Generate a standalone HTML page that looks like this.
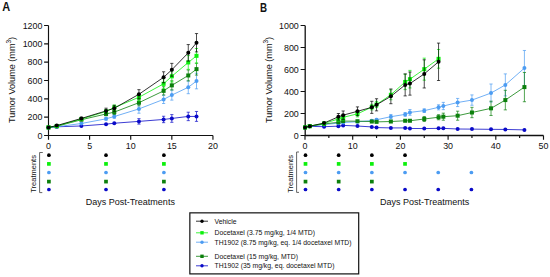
<!DOCTYPE html>
<html><head><meta charset="utf-8"><style>
html,body{margin:0;padding:0;background:#fff;}
body{width:550px;height:277px;overflow:hidden;}
svg{display:block;}
text{font-family:"Liberation Sans",sans-serif;fill:#111;}
</style></head><body>
<svg width="550" height="277" viewBox="0 0 550 277">
<rect width="550" height="277" fill="#fff"/>
<text transform="translate(2.3,11.2) scale(0.9,1)" font-size="12.2" font-weight="bold" font-family="Liberation Sans, sans-serif">A</text>
<text transform="translate(260.0,11.6) scale(0.8,1)" font-size="12.2" font-weight="bold" font-family="Liberation Sans, sans-serif">B</text>
<path d="M48.5 25.500000000000014V135.5H212.94" stroke="#111" stroke-width="1.15" fill="none"/>
<path d="M44.1 135.50H48.5 M44.1 117.17H48.5 M44.1 98.83H48.5 M44.1 80.50H48.5 M44.1 62.17H48.5 M44.1 43.83H48.5 M44.1 25.50H48.5 M48.50 135.5V139.8 M89.61 135.5V139.8 M130.72 135.5V139.8 M171.83 135.5V139.8 M212.94 135.5V139.8" stroke="#111" stroke-width="1.15" fill="none"/>
<text x="42.4" y="138.50" font-size="8.9" text-anchor="end" font-family="Liberation Sans, sans-serif">0</text>
<text x="42.4" y="120.17" font-size="8.9" text-anchor="end" font-family="Liberation Sans, sans-serif">200</text>
<text x="42.4" y="101.83" font-size="8.9" text-anchor="end" font-family="Liberation Sans, sans-serif">400</text>
<text x="42.4" y="83.50" font-size="8.9" text-anchor="end" font-family="Liberation Sans, sans-serif">600</text>
<text x="42.4" y="65.17" font-size="8.9" text-anchor="end" font-family="Liberation Sans, sans-serif">800</text>
<text x="42.4" y="46.83" font-size="8.9" text-anchor="end" font-family="Liberation Sans, sans-serif">1000</text>
<text x="42.4" y="28.50" font-size="8.9" text-anchor="end" font-family="Liberation Sans, sans-serif">1200</text>
<text x="48.50" y="149.3" font-size="8.9" text-anchor="middle" font-family="Liberation Sans, sans-serif">0</text>
<text x="89.61" y="149.3" font-size="8.9" text-anchor="middle" font-family="Liberation Sans, sans-serif">5</text>
<text x="130.72" y="149.3" font-size="8.9" text-anchor="middle" font-family="Liberation Sans, sans-serif">10</text>
<text x="171.83" y="149.3" font-size="8.9" text-anchor="middle" font-family="Liberation Sans, sans-serif">15</text>
<text x="212.94" y="149.3" font-size="8.9" text-anchor="middle" font-family="Liberation Sans, sans-serif">20</text>
<text transform="translate(14.9,123.0) rotate(-90)" font-size="9.1" font-family="Liberation Sans, sans-serif">Tumor Volume (mm<tspan font-size="6.5" dy="-4">3</tspan><tspan dy="4">)</tspan></text>
<text x="130.3" y="204.5" font-size="9" text-anchor="middle" font-family="Liberation Sans, sans-serif">Days Post-Treatments</text>
<path d="M305.2 25.5V135.5H543.5" stroke="#111" stroke-width="1.3" fill="none"/>
<path d="M300.6 135.50H305.0 M300.6 113.50H305.0 M300.6 91.50H305.0 M300.6 69.50H305.0 M300.6 47.50H305.0 M300.6 25.50H305.0 M305.00 135.5V139.8 M352.70 135.5V139.8 M400.40 135.5V139.8 M448.10 135.5V139.8 M495.80 135.5V139.8 M543.50 135.5V139.8 M328.85 135.5V137.9 M376.55 135.5V137.9 M424.25 135.5V137.9 M471.95 135.5V137.9 M519.65 135.5V137.9" stroke="#111" stroke-width="1.15" fill="none"/>
<text x="298.8" y="138.50" font-size="8.9" text-anchor="end" font-family="Liberation Sans, sans-serif">0</text>
<text x="298.8" y="116.50" font-size="8.9" text-anchor="end" font-family="Liberation Sans, sans-serif">200</text>
<text x="298.8" y="94.50" font-size="8.9" text-anchor="end" font-family="Liberation Sans, sans-serif">400</text>
<text x="298.8" y="72.50" font-size="8.9" text-anchor="end" font-family="Liberation Sans, sans-serif">600</text>
<text x="298.8" y="50.50" font-size="8.9" text-anchor="end" font-family="Liberation Sans, sans-serif">800</text>
<text x="298.8" y="28.50" font-size="8.9" text-anchor="end" font-family="Liberation Sans, sans-serif">1000</text>
<text x="305.00" y="149.3" font-size="8.9" text-anchor="middle" font-family="Liberation Sans, sans-serif">0</text>
<text x="352.70" y="149.3" font-size="8.9" text-anchor="middle" font-family="Liberation Sans, sans-serif">10</text>
<text x="400.40" y="149.3" font-size="8.9" text-anchor="middle" font-family="Liberation Sans, sans-serif">20</text>
<text x="448.10" y="149.3" font-size="8.9" text-anchor="middle" font-family="Liberation Sans, sans-serif">30</text>
<text x="495.80" y="149.3" font-size="8.9" text-anchor="middle" font-family="Liberation Sans, sans-serif">40</text>
<text x="543.50" y="149.3" font-size="8.9" text-anchor="middle" font-family="Liberation Sans, sans-serif">50</text>
<text transform="translate(271.5,123.0) rotate(-90)" font-size="9.1" font-family="Liberation Sans, sans-serif">Tumor Volume (mm<tspan font-size="6.5" dy="-4">3</tspan><tspan dy="4">)</tspan></text>
<text x="424.6" y="205.4" font-size="9" text-anchor="middle" font-family="Liberation Sans, sans-serif">Days Post-Treatments</text>
<polyline points="48.50,127.43 56.72,126.79 81.39,125.97 106.05,124.13 114.28,123.22 138.94,121.38 163.61,119.46 171.83,118.45 188.27,116.43 196.50,116.43" fill="none" stroke="#0a0ac8" stroke-width="0.8"/>
<path d="M138.94 118.63V124.13M137.34 118.63h3.2M137.34 124.13h3.2" stroke="#0a0ac8" stroke-width="0.7" fill="none"/>
<path d="M163.61 116.25V122.67M162.01 116.25h3.2M162.01 122.67h3.2" stroke="#0a0ac8" stroke-width="0.7" fill="none"/>
<path d="M171.83 114.60V122.30M170.23 114.60h3.2M170.23 122.30h3.2" stroke="#0a0ac8" stroke-width="0.7" fill="none"/>
<path d="M188.27 112.22V120.65M186.67 112.22h3.2M186.67 120.65h3.2" stroke="#0a0ac8" stroke-width="0.7" fill="none"/>
<path d="M196.50 111.48V121.38M194.90 111.48h3.2M194.90 121.38h3.2" stroke="#0a0ac8" stroke-width="0.7" fill="none"/>
<circle cx="48.50" cy="127.43" r="2.0" fill="#0a0ac8"/>
<circle cx="56.72" cy="126.79" r="2.0" fill="#0a0ac8"/>
<circle cx="81.39" cy="125.97" r="2.0" fill="#0a0ac8"/>
<circle cx="106.05" cy="124.13" r="2.0" fill="#0a0ac8"/>
<circle cx="114.28" cy="123.22" r="2.0" fill="#0a0ac8"/>
<circle cx="138.94" cy="121.38" r="2.0" fill="#0a0ac8"/>
<circle cx="163.61" cy="119.46" r="2.0" fill="#0a0ac8"/>
<circle cx="171.83" cy="118.45" r="2.0" fill="#0a0ac8"/>
<circle cx="188.27" cy="116.43" r="2.0" fill="#0a0ac8"/>
<circle cx="196.50" cy="116.43" r="2.0" fill="#0a0ac8"/>
<polyline points="48.50,127.43 56.72,126.79 81.39,123.49 106.05,118.82 114.28,116.53 138.94,108.92 163.61,99.38 171.83,95.08 188.27,87.28 196.50,81.05" fill="none" stroke="#4c9cf2" stroke-width="0.8"/>
<path d="M106.05 117.44V120.19M104.45 117.44h3.2M104.45 120.19h3.2" stroke="#4c9cf2" stroke-width="0.7" fill="none"/>
<path d="M114.28 114.69V118.36M112.68 114.69h3.2M112.68 118.36h3.2" stroke="#4c9cf2" stroke-width="0.7" fill="none"/>
<path d="M138.94 104.61V113.22M137.34 104.61h3.2M137.34 113.22h3.2" stroke="#4c9cf2" stroke-width="0.7" fill="none"/>
<path d="M163.61 95.26V103.51M162.01 95.26h3.2M162.01 103.51h3.2" stroke="#4c9cf2" stroke-width="0.7" fill="none"/>
<path d="M171.83 90.03V100.12M170.23 90.03h3.2M170.23 100.12h3.2" stroke="#4c9cf2" stroke-width="0.7" fill="none"/>
<path d="M188.27 80.87V93.70M186.67 80.87h3.2M186.67 93.70h3.2" stroke="#4c9cf2" stroke-width="0.7" fill="none"/>
<path d="M196.50 73.26V88.84M194.90 73.26h3.2M194.90 88.84h3.2" stroke="#4c9cf2" stroke-width="0.7" fill="none"/>
<circle cx="48.50" cy="127.43" r="2.0" fill="#4c9cf2"/>
<circle cx="56.72" cy="126.79" r="2.0" fill="#4c9cf2"/>
<circle cx="81.39" cy="123.49" r="2.0" fill="#4c9cf2"/>
<circle cx="106.05" cy="118.82" r="2.0" fill="#4c9cf2"/>
<circle cx="114.28" cy="116.53" r="2.0" fill="#4c9cf2"/>
<circle cx="138.94" cy="108.92" r="2.0" fill="#4c9cf2"/>
<circle cx="163.61" cy="99.38" r="2.0" fill="#4c9cf2"/>
<circle cx="171.83" cy="95.08" r="2.0" fill="#4c9cf2"/>
<circle cx="188.27" cy="87.28" r="2.0" fill="#4c9cf2"/>
<circle cx="196.50" cy="81.05" r="2.0" fill="#4c9cf2"/>
<polyline points="48.50,127.43 56.72,126.33 81.39,119.73 106.05,113.96 114.28,112.12 138.94,102.68 163.61,90.86 171.83,85.36 188.27,75.46 196.50,69.13" fill="none" stroke="#0c800c" stroke-width="0.8"/>
<path d="M106.05 112.12V115.79M104.45 112.12h3.2M104.45 115.79h3.2" stroke="#0c800c" stroke-width="0.7" fill="none"/>
<path d="M114.28 109.83V114.42M112.68 109.83h3.2M112.68 114.42h3.2" stroke="#0c800c" stroke-width="0.7" fill="none"/>
<path d="M138.94 99.47V105.89M137.34 99.47h3.2M137.34 105.89h3.2" stroke="#0c800c" stroke-width="0.7" fill="none"/>
<path d="M163.61 86.73V94.98M162.01 86.73h3.2M162.01 94.98h3.2" stroke="#0c800c" stroke-width="0.7" fill="none"/>
<path d="M171.83 80.78V89.94M170.23 80.78h3.2M170.23 89.94h3.2" stroke="#0c800c" stroke-width="0.7" fill="none"/>
<path d="M188.27 69.96V80.96M186.67 69.96h3.2M186.67 80.96h3.2" stroke="#0c800c" stroke-width="0.7" fill="none"/>
<path d="M196.50 63.18V75.09M194.90 63.18h3.2M194.90 75.09h3.2" stroke="#0c800c" stroke-width="0.7" fill="none"/>
<rect x="46.50" y="125.43" width="4.0" height="4.0" fill="#0c800c"/>
<rect x="54.72" y="124.33" width="4.0" height="4.0" fill="#0c800c"/>
<rect x="79.39" y="117.73" width="4.0" height="4.0" fill="#0c800c"/>
<rect x="104.05" y="111.96" width="4.0" height="4.0" fill="#0c800c"/>
<rect x="112.28" y="110.12" width="4.0" height="4.0" fill="#0c800c"/>
<rect x="136.94" y="100.68" width="4.0" height="4.0" fill="#0c800c"/>
<rect x="161.61" y="88.86" width="4.0" height="4.0" fill="#0c800c"/>
<rect x="169.83" y="83.36" width="4.0" height="4.0" fill="#0c800c"/>
<rect x="186.27" y="73.46" width="4.0" height="4.0" fill="#0c800c"/>
<rect x="194.50" y="67.13" width="4.0" height="4.0" fill="#0c800c"/>
<polyline points="48.50,127.43 56.72,125.97 81.39,119.00 106.05,111.48 114.28,107.54 138.94,97.28 163.61,83.80 171.83,76.28 188.27,62.44 196.50,55.84" fill="none" stroke="#0cf00c" stroke-width="0.8"/>
<path d="M106.05 109.65V113.32M104.45 109.65h3.2M104.45 113.32h3.2" stroke="#0cf00c" stroke-width="0.7" fill="none"/>
<path d="M114.28 104.97V110.11M112.68 104.97h3.2M112.68 110.11h3.2" stroke="#0cf00c" stroke-width="0.7" fill="none"/>
<path d="M138.94 93.61V100.94M137.34 93.61h3.2M137.34 100.94h3.2" stroke="#0cf00c" stroke-width="0.7" fill="none"/>
<path d="M163.61 78.76V88.84M162.01 78.76h3.2M162.01 88.84h3.2" stroke="#0cf00c" stroke-width="0.7" fill="none"/>
<path d="M171.83 70.60V81.97M170.23 70.60h3.2M170.23 81.97h3.2" stroke="#0cf00c" stroke-width="0.7" fill="none"/>
<path d="M188.27 55.57V69.32M186.67 55.57h3.2M186.67 69.32h3.2" stroke="#0cf00c" stroke-width="0.7" fill="none"/>
<path d="M196.50 48.51V63.18M194.90 48.51h3.2M194.90 63.18h3.2" stroke="#0cf00c" stroke-width="0.7" fill="none"/>
<rect x="46.50" y="125.43" width="4.0" height="4.0" fill="#0cf00c"/>
<rect x="54.72" y="123.97" width="4.0" height="4.0" fill="#0cf00c"/>
<rect x="79.39" y="117.00" width="4.0" height="4.0" fill="#0cf00c"/>
<rect x="104.05" y="109.48" width="4.0" height="4.0" fill="#0cf00c"/>
<rect x="112.28" y="105.54" width="4.0" height="4.0" fill="#0cf00c"/>
<rect x="136.94" y="95.28" width="4.0" height="4.0" fill="#0cf00c"/>
<rect x="161.61" y="81.80" width="4.0" height="4.0" fill="#0cf00c"/>
<rect x="169.83" y="74.28" width="4.0" height="4.0" fill="#0cf00c"/>
<rect x="186.27" y="60.44" width="4.0" height="4.0" fill="#0cf00c"/>
<rect x="194.50" y="53.84" width="4.0" height="4.0" fill="#0cf00c"/>
<polyline points="48.50,127.43 56.72,125.60 81.39,118.45 106.05,110.93 114.28,108.28 138.94,94.25 163.61,77.29 171.83,69.78 188.27,52.82 196.50,42.73" fill="none" stroke="#000000" stroke-width="0.8"/>
<path d="M81.39 117.17V119.73M79.79 117.17h3.2M79.79 119.73h3.2" stroke="#000000" stroke-width="0.7" fill="none"/>
<path d="M106.05 108.18V113.68M104.45 108.18h3.2M104.45 113.68h3.2" stroke="#000000" stroke-width="0.7" fill="none"/>
<path d="M114.28 105.34V111.21M112.68 105.34h3.2M112.68 111.21h3.2" stroke="#000000" stroke-width="0.7" fill="none"/>
<path d="M138.94 89.67V98.83M137.34 89.67h3.2M137.34 98.83h3.2" stroke="#000000" stroke-width="0.7" fill="none"/>
<path d="M163.61 71.79V82.79M162.01 71.79h3.2M162.01 82.79h3.2" stroke="#000000" stroke-width="0.7" fill="none"/>
<path d="M171.83 63.36V76.19M170.23 63.36h3.2M170.23 76.19h3.2" stroke="#000000" stroke-width="0.7" fill="none"/>
<path d="M188.27 44.57V61.07M186.67 44.57h3.2M186.67 61.07h3.2" stroke="#000000" stroke-width="0.7" fill="none"/>
<path d="M196.50 33.57V51.90M194.90 33.57h3.2M194.90 51.90h3.2" stroke="#000000" stroke-width="0.7" fill="none"/>
<circle cx="48.50" cy="127.43" r="2.0" fill="#000000"/>
<circle cx="56.72" cy="125.60" r="2.0" fill="#000000"/>
<circle cx="81.39" cy="118.45" r="2.0" fill="#000000"/>
<circle cx="106.05" cy="110.93" r="2.0" fill="#000000"/>
<circle cx="114.28" cy="108.28" r="2.0" fill="#000000"/>
<circle cx="138.94" cy="94.25" r="2.0" fill="#000000"/>
<circle cx="163.61" cy="77.29" r="2.0" fill="#000000"/>
<circle cx="171.83" cy="69.78" r="2.0" fill="#000000"/>
<circle cx="188.27" cy="52.82" r="2.0" fill="#000000"/>
<circle cx="196.50" cy="42.73" r="2.0" fill="#000000"/>
<polyline points="305.00,127.47 309.77,126.37 324.08,126.70 338.39,126.15 343.16,125.38 357.47,126.04 371.78,126.92 376.55,127.58 390.86,127.91 405.17,127.91 409.94,128.46 424.25,128.57 438.56,128.35 443.33,128.35 457.64,129.01 471.95,129.12 491.03,129.34 505.34,129.45 524.42,129.89" fill="none" stroke="#0a0ac8" stroke-width="0.8"/>
<circle cx="305.00" cy="127.47" r="2.0" fill="#0a0ac8"/>
<circle cx="309.77" cy="126.37" r="2.0" fill="#0a0ac8"/>
<circle cx="324.08" cy="126.70" r="2.0" fill="#0a0ac8"/>
<circle cx="338.39" cy="126.15" r="2.0" fill="#0a0ac8"/>
<circle cx="343.16" cy="125.38" r="2.0" fill="#0a0ac8"/>
<circle cx="357.47" cy="126.04" r="2.0" fill="#0a0ac8"/>
<circle cx="371.78" cy="126.92" r="2.0" fill="#0a0ac8"/>
<circle cx="376.55" cy="127.58" r="2.0" fill="#0a0ac8"/>
<circle cx="390.86" cy="127.91" r="2.0" fill="#0a0ac8"/>
<circle cx="405.17" cy="127.91" r="2.0" fill="#0a0ac8"/>
<circle cx="409.94" cy="128.46" r="2.0" fill="#0a0ac8"/>
<circle cx="424.25" cy="128.57" r="2.0" fill="#0a0ac8"/>
<circle cx="438.56" cy="128.35" r="2.0" fill="#0a0ac8"/>
<circle cx="443.33" cy="128.35" r="2.0" fill="#0a0ac8"/>
<circle cx="457.64" cy="129.01" r="2.0" fill="#0a0ac8"/>
<circle cx="471.95" cy="129.12" r="2.0" fill="#0a0ac8"/>
<circle cx="491.03" cy="129.34" r="2.0" fill="#0a0ac8"/>
<circle cx="505.34" cy="129.45" r="2.0" fill="#0a0ac8"/>
<circle cx="524.42" cy="129.89" r="2.0" fill="#0a0ac8"/>
<polyline points="305.00,127.47 309.77,126.15 324.08,124.50 338.39,123.18 343.16,122.52 357.47,121.75 371.78,120.65 376.55,119.77 390.86,116.69 405.17,114.38 409.94,112.40 424.25,110.64 438.56,107.34 443.33,106.02 457.64,102.50 471.95,100.08 491.03,93.04 505.34,84.90 524.42,68.07" fill="none" stroke="#4c9cf2" stroke-width="0.8"/>
<path d="M376.55 118.45V121.09M374.95 118.45h3.2M374.95 121.09h3.2" stroke="#4c9cf2" stroke-width="0.7" fill="none"/>
<path d="M390.86 114.49V118.89M389.26 114.49h3.2M389.26 118.89h3.2" stroke="#4c9cf2" stroke-width="0.7" fill="none"/>
<path d="M405.17 112.51V116.25M403.57 112.51h3.2M403.57 116.25h3.2" stroke="#4c9cf2" stroke-width="0.7" fill="none"/>
<path d="M409.94 109.54V115.26M408.34 109.54h3.2M408.34 115.26h3.2" stroke="#4c9cf2" stroke-width="0.7" fill="none"/>
<path d="M424.25 108.77V112.51M422.65 108.77h3.2M422.65 112.51h3.2" stroke="#4c9cf2" stroke-width="0.7" fill="none"/>
<path d="M438.56 104.81V109.87M436.96 104.81h3.2M436.96 109.87h3.2" stroke="#4c9cf2" stroke-width="0.7" fill="none"/>
<path d="M443.33 102.39V109.65M441.73 102.39h3.2M441.73 109.65h3.2" stroke="#4c9cf2" stroke-width="0.7" fill="none"/>
<path d="M457.64 98.43V106.57M456.04 98.43h3.2M456.04 106.57h3.2" stroke="#4c9cf2" stroke-width="0.7" fill="none"/>
<path d="M471.95 94.91V105.25M470.35 94.91h3.2M470.35 105.25h3.2" stroke="#4c9cf2" stroke-width="0.7" fill="none"/>
<path d="M491.03 84.02V102.06M489.43 84.02h3.2M489.43 102.06h3.2" stroke="#4c9cf2" stroke-width="0.7" fill="none"/>
<path d="M505.34 73.90V95.90M503.74 73.90h3.2M503.74 95.90h3.2" stroke="#4c9cf2" stroke-width="0.7" fill="none"/>
<path d="M524.42 50.47V85.67M522.82 50.47h3.2M522.82 85.67h3.2" stroke="#4c9cf2" stroke-width="0.7" fill="none"/>
<circle cx="305.00" cy="127.47" r="2.0" fill="#4c9cf2"/>
<circle cx="309.77" cy="126.15" r="2.0" fill="#4c9cf2"/>
<circle cx="324.08" cy="124.50" r="2.0" fill="#4c9cf2"/>
<circle cx="338.39" cy="123.18" r="2.0" fill="#4c9cf2"/>
<circle cx="343.16" cy="122.52" r="2.0" fill="#4c9cf2"/>
<circle cx="357.47" cy="121.75" r="2.0" fill="#4c9cf2"/>
<circle cx="371.78" cy="120.65" r="2.0" fill="#4c9cf2"/>
<circle cx="376.55" cy="119.77" r="2.0" fill="#4c9cf2"/>
<circle cx="390.86" cy="116.69" r="2.0" fill="#4c9cf2"/>
<circle cx="405.17" cy="114.38" r="2.0" fill="#4c9cf2"/>
<circle cx="409.94" cy="112.40" r="2.0" fill="#4c9cf2"/>
<circle cx="424.25" cy="110.64" r="2.0" fill="#4c9cf2"/>
<circle cx="438.56" cy="107.34" r="2.0" fill="#4c9cf2"/>
<circle cx="443.33" cy="106.02" r="2.0" fill="#4c9cf2"/>
<circle cx="457.64" cy="102.50" r="2.0" fill="#4c9cf2"/>
<circle cx="471.95" cy="100.08" r="2.0" fill="#4c9cf2"/>
<circle cx="491.03" cy="93.04" r="2.0" fill="#4c9cf2"/>
<circle cx="505.34" cy="84.90" r="2.0" fill="#4c9cf2"/>
<circle cx="524.42" cy="68.07" r="2.0" fill="#4c9cf2"/>
<polyline points="305.00,127.47 309.77,126.15 324.08,123.95 338.39,122.30 343.16,121.09 357.47,121.20 371.78,121.53 376.55,121.86 390.86,121.53 405.17,120.76 409.94,120.76 424.25,119.00 438.56,117.24 443.33,116.69 457.64,115.70 471.95,112.51 491.03,108.33 505.34,100.08 524.42,87.10" fill="none" stroke="#0c800c" stroke-width="0.8"/>
<path d="M424.25 116.47V121.53M422.65 116.47h3.2M422.65 121.53h3.2" stroke="#0c800c" stroke-width="0.7" fill="none"/>
<path d="M438.56 114.71V119.77M436.96 114.71h3.2M436.96 119.77h3.2" stroke="#0c800c" stroke-width="0.7" fill="none"/>
<path d="M443.33 113.17V120.21M441.73 113.17h3.2M441.73 120.21h3.2" stroke="#0c800c" stroke-width="0.7" fill="none"/>
<path d="M457.64 111.19V120.21M456.04 111.19h3.2M456.04 120.21h3.2" stroke="#0c800c" stroke-width="0.7" fill="none"/>
<path d="M471.95 107.34V117.68M470.35 107.34h3.2M470.35 117.68h3.2" stroke="#0c800c" stroke-width="0.7" fill="none"/>
<path d="M491.03 101.18V115.48M489.43 101.18h3.2M489.43 115.48h3.2" stroke="#0c800c" stroke-width="0.7" fill="none"/>
<path d="M505.34 90.29V109.87M503.74 90.29h3.2M503.74 109.87h3.2" stroke="#0c800c" stroke-width="0.7" fill="none"/>
<path d="M524.42 72.47V101.73M522.82 72.47h3.2M522.82 101.73h3.2" stroke="#0c800c" stroke-width="0.7" fill="none"/>
<rect x="303.00" y="125.47" width="4.0" height="4.0" fill="#0c800c"/>
<rect x="307.77" y="124.15" width="4.0" height="4.0" fill="#0c800c"/>
<rect x="322.08" y="121.95" width="4.0" height="4.0" fill="#0c800c"/>
<rect x="336.39" y="120.30" width="4.0" height="4.0" fill="#0c800c"/>
<rect x="341.16" y="119.09" width="4.0" height="4.0" fill="#0c800c"/>
<rect x="355.47" y="119.20" width="4.0" height="4.0" fill="#0c800c"/>
<rect x="369.78" y="119.53" width="4.0" height="4.0" fill="#0c800c"/>
<rect x="374.55" y="119.86" width="4.0" height="4.0" fill="#0c800c"/>
<rect x="388.86" y="119.53" width="4.0" height="4.0" fill="#0c800c"/>
<rect x="403.17" y="118.76" width="4.0" height="4.0" fill="#0c800c"/>
<rect x="407.94" y="118.76" width="4.0" height="4.0" fill="#0c800c"/>
<rect x="422.25" y="117.00" width="4.0" height="4.0" fill="#0c800c"/>
<rect x="436.56" y="115.24" width="4.0" height="4.0" fill="#0c800c"/>
<rect x="441.33" y="114.69" width="4.0" height="4.0" fill="#0c800c"/>
<rect x="455.64" y="113.70" width="4.0" height="4.0" fill="#0c800c"/>
<rect x="469.95" y="110.51" width="4.0" height="4.0" fill="#0c800c"/>
<rect x="489.03" y="106.33" width="4.0" height="4.0" fill="#0c800c"/>
<rect x="503.34" y="98.08" width="4.0" height="4.0" fill="#0c800c"/>
<rect x="522.42" y="85.10" width="4.0" height="4.0" fill="#0c800c"/>
<polyline points="305.00,127.47 309.77,126.15 324.08,123.40 338.39,119.00 343.16,117.35 357.47,113.83 371.78,107.12 376.55,104.48 390.86,94.80 405.17,81.93 409.94,79.18 424.25,69.17 438.56,58.83" fill="none" stroke="#0cf00c" stroke-width="0.8"/>
<path d="M338.39 116.80V121.20M336.79 116.80h3.2M336.79 121.20h3.2" stroke="#0cf00c" stroke-width="0.7" fill="none"/>
<path d="M343.16 114.60V120.10M341.56 114.60h3.2M341.56 120.10h3.2" stroke="#0cf00c" stroke-width="0.7" fill="none"/>
<path d="M357.47 110.75V116.91M355.87 110.75h3.2M355.87 116.91h3.2" stroke="#0cf00c" stroke-width="0.7" fill="none"/>
<path d="M371.78 104.37V109.87M370.18 104.37h3.2M370.18 109.87h3.2" stroke="#0cf00c" stroke-width="0.7" fill="none"/>
<path d="M376.55 101.40V107.56M374.95 101.40h3.2M374.95 107.56h3.2" stroke="#0cf00c" stroke-width="0.7" fill="none"/>
<path d="M390.86 89.85V99.75M389.26 89.85h3.2M389.26 99.75h3.2" stroke="#0cf00c" stroke-width="0.7" fill="none"/>
<path d="M405.17 74.23V89.63M403.57 74.23h3.2M403.57 89.63h3.2" stroke="#0cf00c" stroke-width="0.7" fill="none"/>
<path d="M409.94 70.38V87.98M408.34 70.38h3.2M408.34 87.98h3.2" stroke="#0cf00c" stroke-width="0.7" fill="none"/>
<path d="M424.25 58.17V80.17M422.65 58.17h3.2M422.65 80.17h3.2" stroke="#0cf00c" stroke-width="0.7" fill="none"/>
<path d="M438.56 49.48V68.18M436.96 49.48h3.2M436.96 68.18h3.2" stroke="#0cf00c" stroke-width="0.7" fill="none"/>
<rect x="303.00" y="125.47" width="4.0" height="4.0" fill="#0cf00c"/>
<rect x="307.77" y="124.15" width="4.0" height="4.0" fill="#0cf00c"/>
<rect x="322.08" y="121.40" width="4.0" height="4.0" fill="#0cf00c"/>
<rect x="336.39" y="117.00" width="4.0" height="4.0" fill="#0cf00c"/>
<rect x="341.16" y="115.35" width="4.0" height="4.0" fill="#0cf00c"/>
<rect x="355.47" y="111.83" width="4.0" height="4.0" fill="#0cf00c"/>
<rect x="369.78" y="105.12" width="4.0" height="4.0" fill="#0cf00c"/>
<rect x="374.55" y="102.48" width="4.0" height="4.0" fill="#0cf00c"/>
<rect x="388.86" y="92.80" width="4.0" height="4.0" fill="#0cf00c"/>
<rect x="403.17" y="79.93" width="4.0" height="4.0" fill="#0cf00c"/>
<rect x="407.94" y="77.18" width="4.0" height="4.0" fill="#0cf00c"/>
<rect x="422.25" y="67.17" width="4.0" height="4.0" fill="#0cf00c"/>
<rect x="436.56" y="56.83" width="4.0" height="4.0" fill="#0cf00c"/>
<polyline points="305.00,127.47 309.77,126.15 324.08,123.07 338.39,116.80 343.16,115.15 357.47,111.30 371.78,107.34 376.55,104.81 390.86,96.34 405.17,84.90 409.94,83.58 424.25,73.90 438.56,61.80" fill="none" stroke="#000000" stroke-width="0.8"/>
<path d="M338.39 113.50V120.10M336.79 113.50h3.2M336.79 120.10h3.2" stroke="#000000" stroke-width="0.7" fill="none"/>
<path d="M343.16 110.97V119.33M341.56 110.97h3.2M341.56 119.33h3.2" stroke="#000000" stroke-width="0.7" fill="none"/>
<path d="M357.47 106.90V115.70M355.87 106.90h3.2M355.87 115.70h3.2" stroke="#000000" stroke-width="0.7" fill="none"/>
<path d="M371.78 101.29V113.39M370.18 101.29h3.2M370.18 113.39h3.2" stroke="#000000" stroke-width="0.7" fill="none"/>
<path d="M376.55 98.76V110.86M374.95 98.76h3.2M374.95 110.86h3.2" stroke="#000000" stroke-width="0.7" fill="none"/>
<path d="M390.86 88.97V103.71M389.26 88.97h3.2M389.26 103.71h3.2" stroke="#000000" stroke-width="0.7" fill="none"/>
<path d="M405.17 73.90V95.90M403.57 73.90h3.2M403.57 95.90h3.2" stroke="#000000" stroke-width="0.7" fill="none"/>
<path d="M409.94 72.03V95.13M408.34 72.03h3.2M408.34 95.13h3.2" stroke="#000000" stroke-width="0.7" fill="none"/>
<path d="M424.25 59.82V87.98M422.65 59.82h3.2M422.65 87.98h3.2" stroke="#000000" stroke-width="0.7" fill="none"/>
<path d="M438.56 43.10V80.50M436.96 43.10h3.2M436.96 80.50h3.2" stroke="#000000" stroke-width="0.7" fill="none"/>
<circle cx="305.00" cy="127.47" r="2.0" fill="#000000"/>
<circle cx="309.77" cy="126.15" r="2.0" fill="#000000"/>
<circle cx="324.08" cy="123.07" r="2.0" fill="#000000"/>
<circle cx="338.39" cy="116.80" r="2.0" fill="#000000"/>
<circle cx="343.16" cy="115.15" r="2.0" fill="#000000"/>
<circle cx="357.47" cy="111.30" r="2.0" fill="#000000"/>
<circle cx="371.78" cy="107.34" r="2.0" fill="#000000"/>
<circle cx="376.55" cy="104.81" r="2.0" fill="#000000"/>
<circle cx="390.86" cy="96.34" r="2.0" fill="#000000"/>
<circle cx="405.17" cy="84.90" r="2.0" fill="#000000"/>
<circle cx="409.94" cy="83.58" r="2.0" fill="#000000"/>
<circle cx="424.25" cy="73.90" r="2.0" fill="#000000"/>
<circle cx="438.56" cy="61.80" r="2.0" fill="#000000"/>
<circle cx="48.90" cy="155.15" r="1.85" fill="#000000"/>
<circle cx="106.00" cy="155.15" r="1.85" fill="#000000"/>
<circle cx="163.90" cy="155.15" r="1.85" fill="#000000"/>
<circle cx="305.50" cy="155.15" r="1.85" fill="#000000"/>
<circle cx="338.68" cy="155.15" r="1.85" fill="#000000"/>
<circle cx="371.86" cy="155.15" r="1.85" fill="#000000"/>
<circle cx="405.04" cy="155.15" r="1.85" fill="#000000"/>
<rect x="47.05" y="162.05" width="3.7" height="3.7" fill="#0cf00c"/>
<rect x="104.15" y="162.05" width="3.7" height="3.7" fill="#0cf00c"/>
<rect x="162.05" y="162.05" width="3.7" height="3.7" fill="#0cf00c"/>
<rect x="303.65" y="162.05" width="3.7" height="3.7" fill="#0cf00c"/>
<rect x="336.83" y="162.05" width="3.7" height="3.7" fill="#0cf00c"/>
<rect x="370.01" y="162.05" width="3.7" height="3.7" fill="#0cf00c"/>
<rect x="403.19" y="162.05" width="3.7" height="3.7" fill="#0cf00c"/>
<circle cx="48.90" cy="172.50" r="1.85" fill="#4c9cf2"/>
<circle cx="106.00" cy="172.50" r="1.85" fill="#4c9cf2"/>
<circle cx="163.90" cy="172.50" r="1.85" fill="#4c9cf2"/>
<circle cx="305.50" cy="172.50" r="1.85" fill="#4c9cf2"/>
<circle cx="338.68" cy="172.50" r="1.85" fill="#4c9cf2"/>
<circle cx="371.86" cy="172.50" r="1.85" fill="#4c9cf2"/>
<circle cx="405.04" cy="172.50" r="1.85" fill="#4c9cf2"/>
<circle cx="438.22" cy="172.50" r="1.85" fill="#4c9cf2"/>
<circle cx="471.40" cy="172.50" r="1.85" fill="#4c9cf2"/>
<rect x="47.05" y="179.75" width="3.7" height="3.7" fill="#0c800c"/>
<rect x="104.15" y="179.75" width="3.7" height="3.7" fill="#0c800c"/>
<rect x="162.05" y="179.75" width="3.7" height="3.7" fill="#0c800c"/>
<rect x="303.65" y="179.75" width="3.7" height="3.7" fill="#0c800c"/>
<rect x="336.83" y="179.75" width="3.7" height="3.7" fill="#0c800c"/>
<rect x="370.01" y="179.75" width="3.7" height="3.7" fill="#0c800c"/>
<circle cx="48.90" cy="189.50" r="1.85" fill="#0a0ac8"/>
<circle cx="106.00" cy="189.50" r="1.85" fill="#0a0ac8"/>
<circle cx="163.90" cy="189.50" r="1.85" fill="#0a0ac8"/>
<circle cx="305.50" cy="189.50" r="1.85" fill="#0a0ac8"/>
<circle cx="338.68" cy="189.50" r="1.85" fill="#0a0ac8"/>
<circle cx="371.86" cy="189.50" r="1.85" fill="#0a0ac8"/>
<circle cx="405.04" cy="189.50" r="1.85" fill="#0a0ac8"/>
<circle cx="438.22" cy="189.50" r="1.85" fill="#0a0ac8"/>
<circle cx="471.40" cy="189.50" r="1.85" fill="#0a0ac8"/>
<path d="M42.8 152.5H39.6V192.6H42.3" stroke="#555" stroke-width="0.9" fill="none"/>
<path d="M299 152H296.6V192.4H299" stroke="#555" stroke-width="0.9" fill="none"/>
<text transform="translate(36.4,192.7) rotate(-90)" font-size="7.5" font-family="Liberation Sans, sans-serif">Treatments</text>
<text transform="translate(292.7,192.7) rotate(-90)" font-size="7.5" font-family="Liberation Sans, sans-serif">Treatments</text>
<rect x="189.85" y="212.85" width="168.85" height="61.05" fill="none" stroke="#111" stroke-width="1.2"/>
<path d="M196 221.2H208" stroke="#000000" stroke-width="0.8"/>
<circle cx="202.00" cy="221.20" r="1.7" fill="#000000"/>
<text x="214.5" y="223.7" font-size="6.83" font-family="Liberation Sans, sans-serif">Vehicle</text>
<path d="M196 232.8H208" stroke="#0cf00c" stroke-width="0.8"/>
<rect x="200.30" y="231.10" width="3.4" height="3.4" fill="#0cf00c"/>
<text x="214.5" y="235.3" font-size="6.83" font-family="Liberation Sans, sans-serif">Docetaxel (3.75 mg/kg, 1/4 MTD)</text>
<path d="M196 242.2H208" stroke="#4c9cf2" stroke-width="0.8"/>
<circle cx="202.00" cy="242.20" r="1.7" fill="#4c9cf2"/>
<text x="214.5" y="244.7" font-size="6.83" font-family="Liberation Sans, sans-serif">TH1902 (8.75 mg/kg, eq. 1/4 docetaxel MTD)</text>
<path d="M196 256.3H208" stroke="#0c800c" stroke-width="0.8"/>
<rect x="200.30" y="254.60" width="3.4" height="3.4" fill="#0c800c"/>
<text x="214.5" y="258.8" font-size="6.83" font-family="Liberation Sans, sans-serif">Docetaxel (15 mg/kg, MTD)</text>
<path d="M196 265.8H208" stroke="#0a0ac8" stroke-width="0.8"/>
<circle cx="202.00" cy="265.80" r="1.7" fill="#0a0ac8"/>
<text x="214.5" y="268.3" font-size="6.83" font-family="Liberation Sans, sans-serif">TH1902 (35 mg/kg, eq. docetaxel MTD)</text>
</svg>
</body></html>
